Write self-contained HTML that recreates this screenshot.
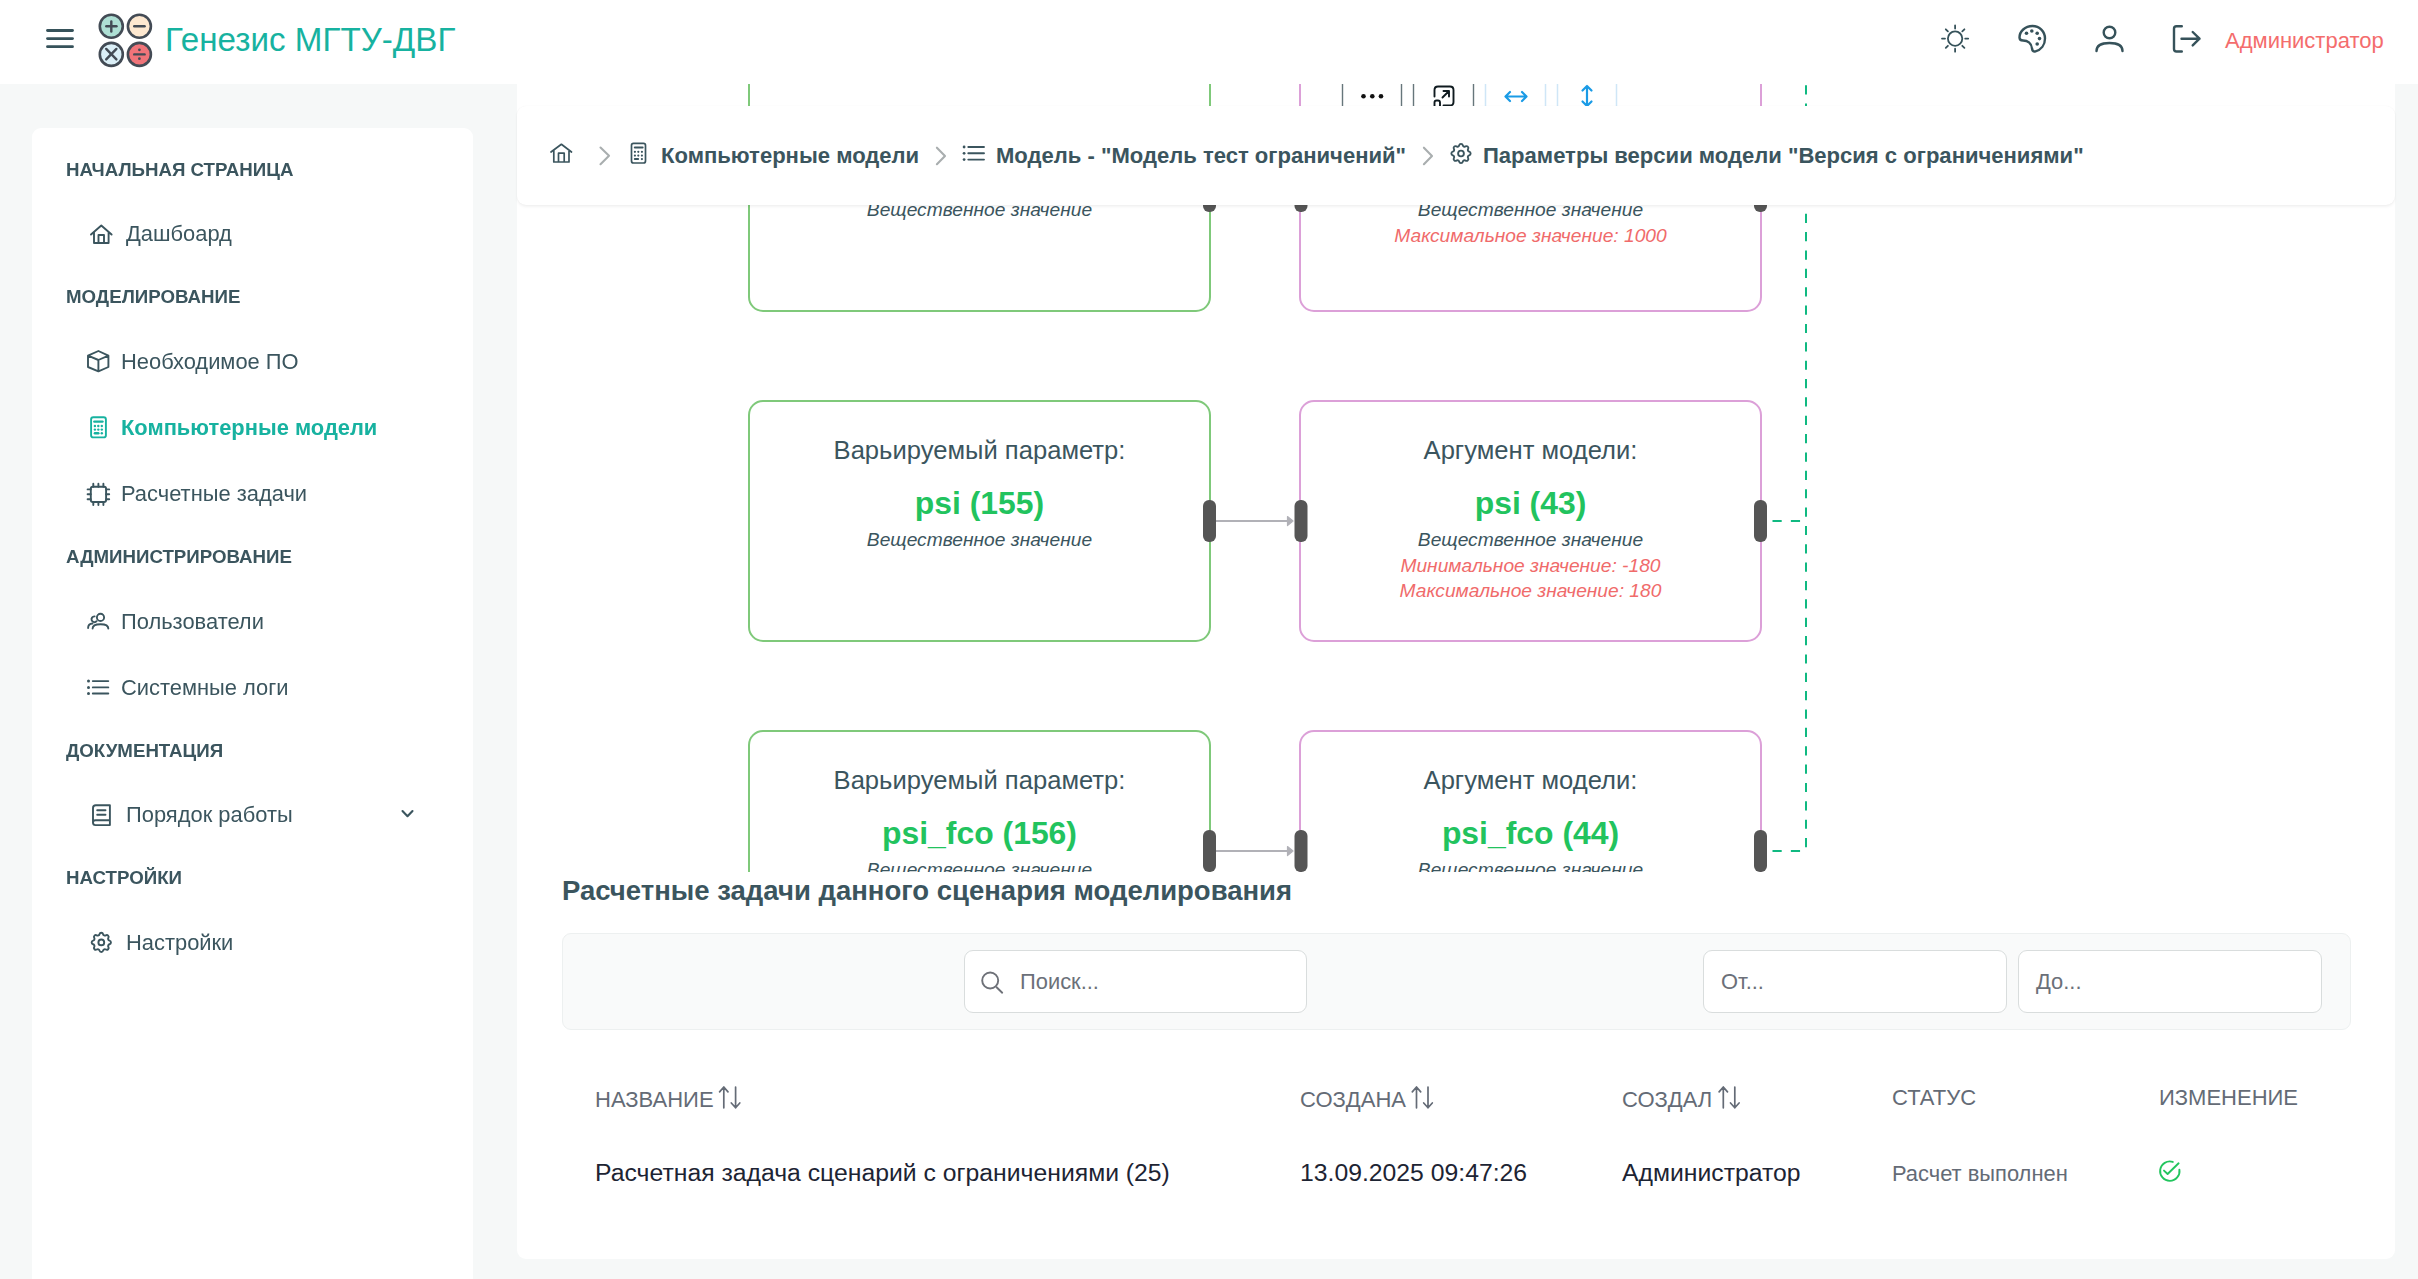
<!DOCTYPE html>
<html lang="ru">
<head>
<meta charset="utf-8">
<title>Генезис МГТУ-ДВГ</title>
<style>
*{box-sizing:border-box;margin:0;padding:0}
html,body{width:2418px;height:1279px;overflow:hidden}
body{background:#f6f8f8;font-family:"Liberation Sans",sans-serif;color:#3b555e;position:relative}
.sh,.si{will-change:transform}
.a{position:absolute;white-space:nowrap;line-height:1}
#hdr{position:absolute;left:0;top:0;width:2418px;height:84px;background:#fff}
#side{position:absolute;left:32px;top:128px;width:441px;height:1200px;background:#fff;border-radius:9px}
#main{position:absolute;left:517px;top:84px;width:1878px;height:1175px;background:#fff;border-radius:0 0 9px 9px;overflow:hidden}
#canvas{position:absolute;left:0;top:0;width:1878px;height:788px;overflow:hidden}
#crumb{position:absolute;left:517px;top:106px;width:1878px;height:99px;background:#fff;border-radius:9px;box-shadow:0 0 1.5px rgba(0,0,0,0.05),0 2px 3px rgba(0,0,0,0.05)}
.sh{font-weight:bold;font-size:18.7px;color:#3b555e}
.si{font-size:21.9px;color:#3b555e}
.bc{font-weight:bold;font-size:22.05px;color:#3b555e}
.node{position:absolute;width:463px;height:242px;border:2px solid #7fc97a;border-radius:15px;background:#fff}
.node.p{border-color:#dca0d8}
.nt{position:absolute;left:0;width:100%;text-align:center;line-height:1;white-space:nowrap}
.t1{font-size:25.6px;color:#3b555e}
.t2{font-size:31.9px;font-weight:bold;color:#22c35e}
.t3{font-size:19.2px;font-style:italic;color:#3b555e}
.t4{font-size:19.2px;font-style:italic;color:#f06b6b}
.hdl{position:absolute;width:13px;height:42px;background:#555;border-radius:6px}
.inp{position:absolute;top:950px;height:63px;background:#fff;border:1.5px solid #d9dddd;border-radius:9px}
.ph{font-size:21.9px;color:#6b7079}
.th{font-size:22px;color:#646b76}
.td{font-size:24.75px;color:#1d2433}
</style>
</head>
<body>
<!-- header -->
<div id="hdr"></div>
<svg class="a" style="left:0;top:0" width="2418" height="84" viewBox="0 0 2418 84">
  <g stroke="#36525a" stroke-width="2.8" stroke-linecap="round">
    <line x1="47.5" y1="30.5" x2="72.5" y2="30.5"/>
    <line x1="47.5" y1="38.6" x2="72.5" y2="38.6"/>
    <line x1="47.5" y1="46.7" x2="72.5" y2="46.7"/>
  </g>
  <g stroke="#434b55" stroke-width="2.6">
    <circle cx="111.3" cy="26.3" r="11.5" fill="#aedfd4"/>
    <circle cx="139.4" cy="26.3" r="11.5" fill="#fde8d0"/>
    <circle cx="111.3" cy="54.4" r="11.5" fill="#dbeff7"/>
    <circle cx="139.4" cy="54.4" r="11.5" fill="#f07479"/>
    <g stroke-linecap="round" stroke-width="2.4">
      <line x1="106.3" y1="26.3" x2="116.5" y2="26.3"/><line x1="111.3" y1="21.4" x2="111.3" y2="31.6"/>
      <line x1="134.2" y1="26.3" x2="144.6" y2="26.3"/>
      <line x1="106.2" y1="48.9" x2="116.4" y2="59.4"/><line x1="116.4" y1="48.9" x2="106.2" y2="59.4"/>
      <line x1="134.2" y1="54.4" x2="144.6" y2="54.4"/>
    </g>
    <circle cx="139.4" cy="49.8" r="1.4" fill="#434b55" stroke="none"/>
    <circle cx="139.4" cy="58.7" r="1.4" fill="#434b55" stroke="none"/>
  </g>
  <!-- sun -->
  <g stroke="#36525a" stroke-width="1.8" fill="none" stroke-linecap="round">
    <circle cx="1955.1" cy="38.6" r="7.2"/>
    <line x1="1955.1" y1="25.5" x2="1955.1" y2="28.5"/><line x1="1955.1" y1="48.7" x2="1955.1" y2="51.7"/>
    <line x1="1942" y1="38.6" x2="1945" y2="38.6"/><line x1="1965.2" y1="38.6" x2="1968.2" y2="38.6"/>
    <line x1="1945.8" y1="29.3" x2="1947.9" y2="31.4"/><line x1="1962.3" y1="45.8" x2="1964.4" y2="47.9"/>
    <line x1="1945.8" y1="47.9" x2="1947.9" y2="45.8"/><line x1="1962.3" y1="31.4" x2="1964.4" y2="29.3"/>
  </g>
  <!-- palette -->
  <g stroke="#36525a" stroke-width="2.4" fill="none" stroke-linejoin="round">
    <path d="M2032.5 26 C2025 26 2019.5 31.5 2019.5 37.5 C2019.5 39.5 2021 40.5 2023 40.5 C2027.5 40.5 2031.5 43 2032 48.5 C2032.3 51 2033.5 51.8 2035.5 51.3 C2041 49.8 2045 45 2045 38.5 C2045 31.5 2039.5 26 2032.5 26 Z"/>
  </g>
  <g fill="#36525a">
    <circle cx="2026.5" cy="33.3" r="1.8"/><circle cx="2031.8" cy="31" r="1.8"/><circle cx="2037.2" cy="33.3" r="1.8"/>
    <circle cx="2039.5" cy="38.6" r="1.8"/><circle cx="2037.2" cy="44" r="1.8"/>
  </g>
  <!-- user -->
  <g stroke="#36525a" stroke-width="2.4" fill="none" stroke-linecap="round">
    <circle cx="2109.5" cy="32.5" r="5.8"/>
    <path d="M2096.5 51 C2096.5 45.5 2101 43 2109.5 43 C2118 43 2122.5 45.5 2122.5 51"/>
  </g>
  <!-- logout -->
  <g stroke="#36525a" stroke-width="2.4" fill="none" stroke-linecap="round" stroke-linejoin="round">
    <path d="M2181.8 26.2 H2176.5 Q2174 26.2 2174 28.7 V49 Q2174 51.5 2176.5 51.5 H2181.8"/>
    <path d="M2181.5 38.7 H2199.5 M2192.7 32 L2199.5 38.7 L2192.7 45.4"/>
  </g>
</svg>
<div class="a" style="left:165px;top:23px;font-size:33.2px;color:#17b2a0">Генезис МГТУ-ДВГ</div>
<div class="a" style="left:2225px;top:30px;font-size:22px;color:#f46d6d">Администратор</div>

<!-- sidebar -->
<div id="side"></div>
<div class="a sh" style="left:66px;top:161px">НАЧАЛЬНАЯ СТРАНИЦА</div>
<div class="a si" style="left:126px;top:223px">Дашбоард</div>
<div class="a sh" style="left:66px;top:288px">МОДЕЛИРОВАНИЕ</div>
<div class="a si" style="left:121px;top:351px">Необходимое ПО</div>
<div class="a si" style="left:121px;top:417px;font-weight:bold;color:#17b2a0">Компьютерные модели</div>
<div class="a si" style="left:121px;top:483px">Расчетные задачи</div>
<div class="a sh" style="left:66px;top:548px">АДМИНИСТРИРОВАНИЕ</div>
<div class="a si" style="left:121px;top:611px">Пользователи</div>
<div class="a si" style="left:121px;top:677px">Системные логи</div>
<div class="a sh" style="left:66px;top:742px">ДОКУМЕНТАЦИЯ</div>
<div class="a si" style="left:126px;top:804px">Порядок работы</div>
<div class="a sh" style="left:66px;top:869px">НАСТРОЙКИ</div>
<div class="a si" style="left:126px;top:932px">Настройки</div>

<!-- main -->
<div id="main">
  <div id="canvas"><div id="cv" style="position:absolute;left:-517px;top:-84px;width:2418px;height:1279px">
    <!-- top row -->
    <div class="node" style="left:748px;top:70px"></div>
    <div class="node p" style="left:1299px;top:70px"></div>
    <div class="nt t1" style="left:748px;width:463px;top:108px">Варьируемый параметр:</div>
    <div class="nt t2" style="left:748px;width:463px;top:158px">phi (154)</div>
    <div class="nt t3" style="left:748px;width:463px;top:200px">Вещественное значение</div>
    <div class="nt t1" style="left:1299px;width:463px;top:108px">Аргумент модели:</div>
    <div class="nt t2" style="left:1299px;width:463px;top:158px">phi (42)</div>
    <div class="nt t3" style="left:1299px;width:463px;top:200px">Вещественное значение</div>
    <div class="nt t4" style="left:1299px;width:463px;top:226px">Максимальное значение: 1000</div>
    <!-- middle row -->
    <div class="node" style="left:748px;top:400px"></div>
    <div class="node p" style="left:1299px;top:400px"></div>
    <div class="nt t1" style="left:748px;width:463px;top:438px">Варьируемый параметр:</div>
    <div class="nt t2" style="left:748px;width:463px;top:488px">psi (155)</div>
    <div class="nt t3" style="left:748px;width:463px;top:530px">Вещественное значение</div>
    <div class="nt t1" style="left:1299px;width:463px;top:438px">Аргумент модели:</div>
    <div class="nt t2" style="left:1299px;width:463px;top:488px">psi (43)</div>
    <div class="nt t3" style="left:1299px;width:463px;top:530px">Вещественное значение</div>
    <div class="nt t4" style="left:1299px;width:463px;top:556px">Минимальное значение: -180</div>
    <div class="nt t4" style="left:1299px;width:463px;top:581px">Максимальное значение: 180</div>
    <!-- bottom row -->
    <div class="node" style="left:748px;top:730px"></div>
    <div class="node p" style="left:1299px;top:730px"></div>
    <div class="nt t1" style="left:748px;width:463px;top:768px">Варьируемый параметр:</div>
    <div class="nt t2" style="left:748px;width:463px;top:818px">psi_fco (156)</div>
    <div class="nt t3" style="left:748px;width:463px;top:860px">Вещественное значение</div>
    <div class="nt t1" style="left:1299px;width:463px;top:768px">Аргумент модели:</div>
    <div class="nt t2" style="left:1299px;width:463px;top:818px">psi_fco (44)</div>
    <div class="nt t3" style="left:1299px;width:463px;top:860px">Вещественное значение</div>
    <svg style="position:absolute;left:0;top:0" width="2418" height="1279" viewBox="0 0 2418 1279">
      <g stroke="#b1b1b7" stroke-width="2" fill="none">
        <line x1="1216" y1="191" x2="1288" y2="191"/>
        <line x1="1216" y1="521" x2="1288" y2="521"/>
        <line x1="1216" y1="851" x2="1288" y2="851"/>
      </g>
      <g fill="#b1b1b7" stroke="#b1b1b7" stroke-width="1.2" stroke-linejoin="round">
        <path d="M1287.5 186.5 L1293 191 L1287.5 195.5 Z"/>
        <path d="M1287.5 516.5 L1293 521 L1287.5 525.5 Z"/>
        <path d="M1287.5 846.5 L1293 851 L1287.5 855.5 Z"/>
      </g>
      <g stroke="#10b981" stroke-width="2" fill="none" stroke-dasharray="9.2 9.16">
        <path d="M1772.5 191 H1806"/>
        <path d="M1772.5 521 H1806"/>
        <path d="M1772.5 851 H1806"/>
        <path d="M1806 851 V80" stroke-dashoffset="14.56"/>
      </g>
      <g fill="#555555">
        <rect x="1203" y="170" width="13" height="42" rx="6"/>
        <rect x="1294.5" y="170" width="13" height="42" rx="6"/>
        <rect x="1754" y="170" width="13" height="42" rx="6"/>
        <rect x="1203" y="500" width="13" height="42" rx="6"/>
        <rect x="1294.5" y="500" width="13" height="42" rx="6"/>
        <rect x="1754" y="500" width="13" height="42" rx="6"/>
        <rect x="1203" y="830" width="13" height="42" rx="6"/>
        <rect x="1294.5" y="830" width="13" height="42" rx="6"/>
        <rect x="1754" y="830" width="13" height="42" rx="6"/>
      </g>
      <!-- toolbar fragments -->
      <g stroke="#66767b" stroke-width="1.4">
        <line x1="1342.5" y1="84" x2="1342.5" y2="106"/>
        <line x1="1401.5" y1="84" x2="1401.5" y2="106"/>
        <line x1="1413.5" y1="84" x2="1413.5" y2="106"/>
        <line x1="1473.5" y1="84" x2="1473.5" y2="106"/>
      </g>
      <g stroke="#cfe6f7" stroke-width="1.5">
        <line x1="1485.5" y1="84" x2="1485.5" y2="106"/>
        <line x1="1545.5" y1="84" x2="1545.5" y2="106"/>
        <line x1="1557.5" y1="84" x2="1557.5" y2="106"/>
        <line x1="1616.5" y1="84" x2="1616.5" y2="106"/>
      </g>
      <g fill="#111">
        <circle cx="1363.5" cy="96.3" r="2.3"/><circle cx="1372.3" cy="96.3" r="2.3"/><circle cx="1381" cy="96.3" r="2.3"/>
      </g>
      <g stroke="#0f1a1f" stroke-width="1.9" fill="none" stroke-linecap="round" stroke-linejoin="round">
        <path d="M1434.5 96.5 V90 Q1434.5 86.5 1438 86.5 H1450 Q1453.5 86.5 1453.5 90 V102 Q1453.5 105.5 1450 105.5 H1443.5"/>
        <path d="M1434.5 106 V102.5 Q1434.5 100.5 1436.5 100.5 H1438 Q1440 100.5 1440 102.5 V106"/>
        <path d="M1442.5 97.5 L1448.8 91.3 M1443.5 91 H1449 V96.5"/>
      </g>
      <g stroke="#1a9be6" stroke-width="2.2" fill="none" stroke-linecap="round" stroke-linejoin="round">
        <path d="M1506 96.5 H1526 M1510 92 L1505.5 96.5 L1510 101 M1522 92 L1526.5 96.5 L1522 101"/>
        <path d="M1587 86 V106 M1582.5 90.5 L1587 86 L1591.5 90.5 M1582.5 101.5 L1587 106 L1591.5 101.5"/>
      </g>
    </svg>
  </div></div>
</div>

<div id="crumb"></div>
<div class="a bc" style="left:661px;top:145px">Компьютерные модели</div>
<div class="a bc" style="left:996px;top:145px">Модель - "Модель тест ограничений"</div>
<div class="a bc" style="left:1483px;top:145px">Параметры версии модели "Версия с ограничениями"</div>

<!-- tasks section -->
<div class="a" style="left:562px;top:877px;font-size:27.5px;font-weight:bold;color:#3b555e">Расчетные задачи данного сценария моделирования</div>
<div class="a" style="left:562px;top:933px;width:1789px;height:97px;background:#f9fafa;border:1px solid #edf0f0;border-radius:9px"></div>
<div class="inp" style="left:964px;width:343px"></div>
<div class="inp" style="left:1703px;width:304px"></div>
<div class="inp" style="left:2018px;width:304px"></div>
<div class="a ph" style="left:1020px;top:971px">Поиск...</div>
<div class="a ph" style="left:1721px;top:971px">От...</div>
<div class="a ph" style="left:2036px;top:971px">До...</div>

<div class="a th" style="left:595px;top:1089px">НАЗВАНИЕ</div>
<div class="a th" style="left:1300px;top:1089px">СОЗДАНА</div>
<div class="a th" style="left:1622px;top:1089px">СОЗДАЛ</div>
<div class="a th" style="left:1892px;top:1087px">СТАТУС</div>
<div class="a th" style="left:2159px;top:1087px">ИЗМЕНЕНИЕ</div>

<div class="a td" style="left:595px;top:1161px">Расчетная задача сценарий с ограничениями (25)</div>
<div class="a td" style="left:1300px;top:1161px">13.09.2025 09:47:26</div>
<div class="a td" style="left:1622px;top:1161px">Администратор</div>
<div class="a td" style="left:1892px;top:1163px;font-size:21.9px;color:#646b76">Расчет выполнен</div>

<!-- icon overlay -->
<svg class="a" style="left:0;top:0;pointer-events:none" width="2418" height="1279" viewBox="0 0 2418 1279">
  <g stroke="#3b555e" stroke-width="1.9" fill="none" stroke-linecap="round" stroke-linejoin="round">
    <!-- dashboard home -->
    <path d="M91 234.5 L101.3 225.5 L111.6 234.5 M94 232 V243 H108.6 V232 M98.5 243 V235 H104 V243"/>
    <!-- cube -->
    <path d="M98.4 351 L108.4 355.7 V367 L98.4 371.3 L88 367 V355.7 Z M88 355.7 L98.4 360 L108.4 355.7 M98.4 360 V371.3"/>
    <!-- chip -->
    <rect x="90.8" y="486.7" width="15.3" height="15.3" rx="2"/>
    <path d="M93.3 483.7 V486.7 M98.4 483.7 V486.7 M103.4 483.7 V486.7 M93.3 502 V505 M98.4 502 V505 M103.4 502 V505 M87.6 489.4 H90.8 M87.6 494.3 H90.8 M87.6 499.3 H90.8 M106.1 489.4 H109.2 M106.1 494.3 H109.2 M106.1 499.3 H109.2"/>
    <!-- users -->
    <circle cx="100.5" cy="617.4" r="3.6"/>
    <path d="M92.6 628.6 C92.6 625.5 95 624.2 100.5 624.2 C106 624.2 108.3 625.5 108.3 628.6"/>
    <path d="M94.6 616.4 A2.9 2.9 0 1 0 96.6 621.2"/>
    <path d="M88.1 628 C88.1 625.2 89.8 623.7 92.5 623.5"/>
    <!-- logs -->
    <path d="M92.8 681.1 H108.3 M92.8 687.4 H108.3 M92.8 693.5 H108.3"/>
    <!-- book -->
    <path d="M93 823 V808 Q93 805.2 95.8 805.2 H109.9 V825.1 H95.5 Q93 825.1 93 822.5 Q93 820.3 95.5 820.3 H109.9"/>
    <path d="M97.2 810.3 H105.5 M97.2 814.8 H105.5"/>
    <!-- settings gear sidebar -->
    <g transform="translate(101.3 942.4) scale(1.07) translate(-12 -12)">
      <path stroke-width="1.8" d="M10.325 4.317c.426 -1.756 2.924 -1.756 3.35 0a1.724 1.724 0 0 0 2.573 1.066c1.543 -.94 3.31 .826 2.37 2.37a1.724 1.724 0 0 0 1.065 2.572c1.756 .426 1.756 2.924 0 3.35a1.724 1.724 0 0 0 -1.066 2.573c.94 1.543 -.826 3.31 -2.37 2.37a1.724 1.724 0 0 0 -2.572 1.065c-.426 1.756 -2.924 1.756 -3.35 0a1.724 1.724 0 0 0 -2.573 -1.066c-1.543 .94 -3.31 -.826 -2.37 -2.37a1.724 1.724 0 0 0 -1.065 -2.572c-1.756 -.426 -1.756 -2.924 0 -3.35a1.724 1.724 0 0 0 1.066 -2.573c-.94 -1.543 .826 -3.31 2.37 -2.37c1 .608 2.296 .07 2.572 -1.065z"/>
      <circle cx="12" cy="12" r="2.7" stroke-width="1.8"/>
    </g>
    <!-- chevron down -->
    <path d="M402.5 811 L407.5 816.2 L412.5 811" stroke-width="2.1"/>
  </g>
  <g stroke="#3b555e" fill="#3b555e" stroke-width="0">
    <!-- logs dots -->
    <circle cx="88.5" cy="681.1" r="1.5"/><circle cx="88.5" cy="687.4" r="1.5"/><circle cx="88.5" cy="693.5" r="1.5"/>
  </g>
  <!-- calculator sidebar (teal) -->
  <g stroke="#17b2a0" stroke-width="1.9" fill="none" stroke-linecap="round">
    <rect x="91.1" y="417.2" width="14.8" height="20.2" rx="2.2"/>
    <path d="M94.3 421.6 H102.5" stroke-width="2.4"/>
  </g>
  <g fill="#17b2a0">
    <circle cx="94.9" cy="426" r="1.2"/><circle cx="98.3" cy="426" r="1.2"/><circle cx="101.8" cy="426" r="1.2"/>
    <circle cx="94.9" cy="429.6" r="1.2"/><circle cx="98.3" cy="429.6" r="1.2"/><circle cx="101.8" cy="429.6" r="1.2"/>
    <rect x="93.7" y="432.1" width="5.8" height="2.4" rx="1.2"/><circle cx="101.8" cy="433.3" r="1.2"/>
  </g>
  <!-- breadcrumb icons -->
  <g stroke="#3b555e" stroke-width="1.7" fill="none" stroke-linecap="round" stroke-linejoin="round">
    <path d="M551 152 L561.4 144.3 L571.5 152 M553.8 150 V162 H569 V150 M558.5 162 V153.2 H564.2 V162"/>
    <rect x="631.5" y="143.4" width="14" height="19.6" rx="2"/>
    <path d="M634.8 147.5 H642.6" stroke-width="2"/>
    <path d="M968.3 147 H984 M968.3 153.3 H984 M968.3 159.6 H984" stroke-width="1.9"/>
    <g transform="translate(1461 153.5) scale(1.07) translate(-12 -12)">
      <path stroke-width="1.75" d="M10.325 4.317c.426 -1.756 2.924 -1.756 3.35 0a1.724 1.724 0 0 0 2.573 1.066c1.543 -.94 3.31 .826 2.37 2.37a1.724 1.724 0 0 0 1.065 2.572c1.756 .426 1.756 2.924 0 3.35a1.724 1.724 0 0 0 -1.066 2.573c.94 1.543 -.826 3.31 -2.37 2.37a1.724 1.724 0 0 0 -2.572 1.065c-.426 1.756 -2.924 1.756 -3.35 0a1.724 1.724 0 0 0 -2.573 -1.066c-1.543 .94 -3.31 -.826 -2.37 -2.37a1.724 1.724 0 0 0 -1.065 -2.572c-1.756 -.426 -1.756 -2.924 0 -3.35a1.724 1.724 0 0 0 1.066 -2.573c-.94 -1.543 .826 -3.31 2.37 -2.37c1 .608 2.296 .07 2.572 -1.065z"/>
      <circle cx="12" cy="12" r="2.7" stroke-width="1.75"/>
    </g>
  </g>
  <g fill="#3b555e">
    <circle cx="634.9" cy="151.8" r="1.1"/><circle cx="638.3" cy="151.8" r="1.1"/><circle cx="641.9" cy="151.8" r="1.1"/>
    <circle cx="634.9" cy="155.6" r="1.1"/><circle cx="638.3" cy="155.6" r="1.1"/><circle cx="641.9" cy="155.6" r="1.1"/>
    <rect x="633.8" y="158.1" width="5.3" height="2" rx="1"/><circle cx="641.9" cy="159.1" r="1.1"/>
    <circle cx="964.1" cy="147" r="1.4"/><circle cx="964.1" cy="153.3" r="1.4"/><circle cx="964.1" cy="159.6" r="1.4"/>
  </g>
  <g stroke="#a9aeaf" stroke-width="2.1" fill="none" stroke-linecap="round" stroke-linejoin="round">
    <path d="M600.5 147.5 L609 155.8 L600.5 164.2"/>
    <path d="M936.9 147.7 L945 155.9 L936.9 164.2"/>
    <path d="M1423.9 147.7 L1432 155.9 L1423.9 164.2"/>
  </g>
  <!-- search -->
  <g stroke="#6e7178" stroke-width="1.9" fill="none" stroke-linecap="round">
    <circle cx="990.2" cy="980.5" r="8"/>
    <path d="M996.6 987.2 L1002.2 992.7"/>
  </g>
  <!-- sort arrows -->
  <g stroke="#646b76" stroke-width="1.7" fill="none" stroke-linecap="round" stroke-linejoin="round">
    <path d="M723.8 1087 V1107.8 M719.6 1091.9 L723.8 1087 L728 1091.9 M735.6 1087 V1107.8 M731.3 1103 L735.6 1107.8 L739.8 1103"/>
    <path d="M1416.5 1087 V1107.8 M1412.3 1091.9 L1416.5 1087 L1420.7 1091.9 M1428 1087 V1107.8 M1423.7 1103 L1428 1107.8 L1432.3 1103"/>
    <path d="M1723.3 1087 V1107.8 M1719.1 1091.9 L1723.3 1087 L1727.5 1091.9 M1734.8 1087 V1107.8 M1730.5 1103 L1734.8 1107.8 L1739.1 1103"/>
  </g>
  <!-- check -->
  <g stroke="#22c55e" stroke-width="1.9" fill="none" stroke-linecap="round" stroke-linejoin="round">
    <path d="M2179.4 1169.6 A9.7 9.7 0 1 1 2172.8 1161.9"/>
    <path d="M2164 1170.6 L2167.6 1174 L2178.6 1163.3"/>
  </g>
</svg>
</body>
</html>
